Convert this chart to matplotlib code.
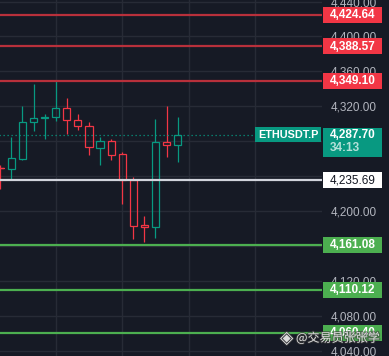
import matplotlib
matplotlib.use("Agg")
import matplotlib.pyplot as plt
import matplotlib.transforms as mtransforms
import matplotlib.patheffects as pe
from matplotlib.patches import Rectangle

plt.rcParams['font.family'] = ['Liberation Sans', 'DejaVu Sans']

# candle data (15m)
opens  = [4249.5, 4248.2, 4259.7, 4302.0, 4307.0, 4307.8, 4318.1, 4304.3, 4297.5,
          4272.3, 4280.3, 4265.4, 4235.6, 4184.1, 4181.8, 4279.2, 4275.7]
highs  = [4252.8, 4284.9, 4320.4, 4345.6, 4311.2, 4350.2, 4329.5, 4311.2, 4302.0,
          4284.9, 4282.6, 4267.7, 4239.1, 4194.4, 4305.5, 4320.4, 4307.8]
lows   = [4225.0, 4236.8, 4258.5, 4291.8, 4282.6, 4303.2, 4288.3, 4292.9, 4264.3,
          4253.0, 4258.5, 4208.1, 4168.1, 4164.6, 4169.2, 4262.0, 4256.2]
closes = [4248.8, 4260.8, 4302.0, 4306.6, 4308.0, 4318.1, 4304.3, 4297.5, 4273.4,
          4280.3, 4264.3, 4235.6, 4183.0, 4182.0, 4279.2, 4275.7, 4287.7]

levels_red = [4424.64, 4388.57, 4349.10]
level_white = 4235.69
levels_green = [4161.08, 4110.12, 4060.40]
last_price = 4287.70
countdown = "34:13"
symbol = "ETHUSDT.P"
yticks = [4040, 4080, 4120, 4160, 4200, 4240, 4280, 4320, 4360, 4400, 4440]
xgrid = [5, 11, 17, 23]
watermark = "@交易员张张学"

bg = '#161a25'
grid_c = '#272b36'
up = '#089981'
down = '#f23645'
red_line = '#b8303b'
green_c = '#4caf50'
white_c = '#d1d4dc'

W, H = 389, 356
fig = plt.figure(figsize=(W / 100, H / 100), dpi=100, facecolor=bg)
ax = fig.add_axes([0, 0, 322 / W, 1])
ax.set_facecolor(bg)
ymin, ymax = 4034.0, 4441.8
ax.set_ylim(ymin, ymax)
ax.set_xlim(-0.03, 29.03)
px = (ymax - ymin) / H  # price units per pixel

for s in ax.spines.values():
    s.set_visible(False)
ax.set_xticks(xgrid)
ax.set_yticks(yticks)
ax.grid(True, color=grid_c, linewidth=1.0)
ax.set_axisbelow(True)
ax.tick_params(axis='x', length=0, labelbottom=False)
ax.yaxis.tick_right()
ax.tick_params(axis='y', length=0, pad=6.5, labelsize=8.5, labelcolor='#b2b5be')
ax.set_yticklabels([f"{v:,.2f}" for v in yticks])

# hollow candles
bw = 0.65
for i, (o, h, l, c) in enumerate(zip(opens, highs, lows, closes)):
    col = up if c >= o else down
    top, bot = max(o, c), min(o, c)
    ax.vlines(i, top, h, color=col, linewidth=0.9, zorder=2)
    ax.vlines(i, l, bot, color=col, linewidth=0.9, zorder=2)
    ax.add_patch(Rectangle((i - bw / 2, bot), bw, max(top - bot, 0.6), facecolor='none',
                           edgecolor=col, linewidth=0.9, zorder=2))

# horizontal levels
for v in levels_red:
    ax.axhline(v, color=red_line, linewidth=1.6, zorder=3)
for v in levels_green:
    ax.axhline(v, color=green_c, linewidth=1.6, zorder=3)
ax.axhline(level_white, color=white_c, linewidth=1.6, zorder=3)

# current price dotted line up to the symbol label
ax.plot([-1, 23.0], [last_price, last_price], color=up, linewidth=0.9,
        linestyle=(0, (1, 2.2)), zorder=4)

# price labels on the right scale
tr = mtransforms.blended_transform_factory(fig.transFigure, ax.transData)
bx0, bwid = 323 / W, 59 / W
tx = 330 / W


def price_box(v, fc, tc, weight='bold'):
    ax.add_patch(Rectangle((bx0, v - 8 * px), bwid, 16 * px, transform=tr, facecolor=fc,
                           edgecolor='none', clip_on=False, zorder=6))
    ax.text(tx, v - 0.3 * px, f"{v:,.2f}", transform=tr, color=tc, fontsize=8.5,
            fontweight=weight, va='center', ha='left', clip_on=False, zorder=7)


for v in levels_red:
    price_box(v, down, 'white')
for v in levels_green:
    price_box(v, green_c, 'white')
price_box(level_white, 'white', '#131722', weight='normal')

# last price box with countdown
ax.add_patch(Rectangle((bx0, last_price - 22.5 * px), bwid, 29.5 * px, transform=tr,
                       facecolor=up, edgecolor='none', clip_on=False, zorder=6))
ax.text(tx, last_price - 0.3 * px, f"{last_price:,.2f}", transform=tr, color='white',
        fontsize=8.5, fontweight='bold', va='center', ha='left', clip_on=False, zorder=7)
ax.text(tx, last_price - 13.5 * px, countdown, transform=tr, color='white', alpha=0.7,
        fontsize=8.5, fontweight='bold', va='center', ha='left', clip_on=False, zorder=7)

# symbol tag
ax.add_patch(Rectangle((255 / W, last_price - 7.5 * px), 66 / W, 15.5 * px, transform=tr,
                       facecolor=up, edgecolor='none', clip_on=False, zorder=6))
ax.text(288 / W, last_price - 0.3 * px, symbol, transform=tr, color='white', fontsize=7.8,
        fontweight='bold', va='center', ha='center', clip_on=False, zorder=7)

# watermark
shadow = [pe.withStroke(linewidth=1.5, foreground='#3a3a3a', alpha=0.6)]
fig.text(280 / W, 1 - 338 / H, "◈", family=['DejaVu Sans'], fontsize=12.5,
         color='#e6e6e6', alpha=0.9, va='center', ha='left', zorder=10, path_effects=shadow)
fig.text(296 / W, 1 - 338 / H, watermark, family=['Noto Sans CJK SC', 'DejaVu Sans'],
         fontsize=8.7, color='#e6e6e6', alpha=0.9, va='center', ha='left', zorder=10,
         path_effects=shadow)

fig.savefig("out.png", dpi=100, facecolor=bg)
